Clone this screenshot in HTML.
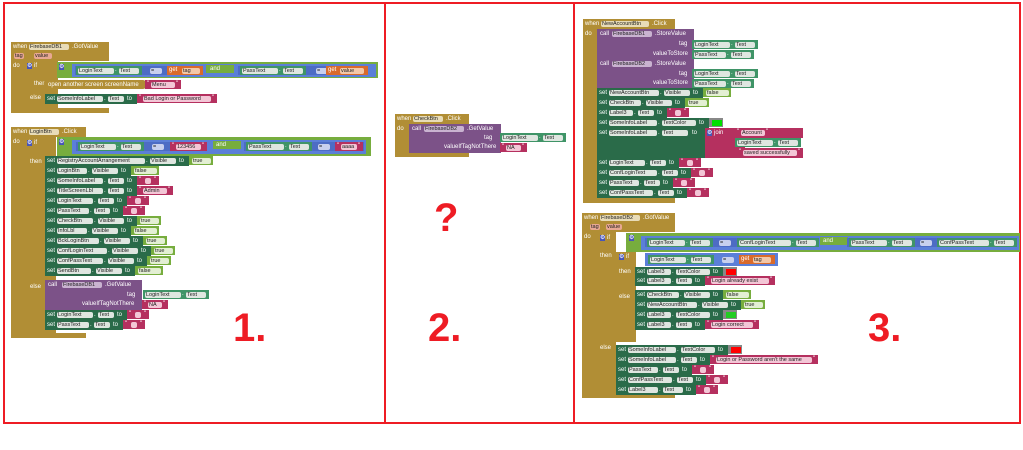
<!DOCTYPE html>
<html><head><meta charset="utf-8">
<style>
html,body{margin:0;padding:0;background:#fff;width:1023px;height:450px;overflow:hidden;position:relative;font-family:"Liberation Sans",sans-serif}
.r{position:absolute}
.t{position:absolute;font-size:6px;line-height:7px;white-space:nowrap;color:#fff}
.c{position:absolute;height:6px;background:#dfe6e0;border-radius:2px;font-size:5.5px;line-height:6px;color:#222;white-space:nowrap;overflow:hidden;padding-left:1px;box-sizing:border-box}
.big{position:absolute;color:#ee1c24;font-weight:bold;font-size:40px;line-height:40px}
</style></head><body>
<div class="r" style="left:3px;top:2px;width:1014px;height:418px;border:2px solid #ee1c24"></div>
<div class="r" style="left:384px;top:2px;width:2px;height:422px;background:#ee1c24"></div>
<div class="r" style="left:573px;top:2px;width:2px;height:422px;background:#ee1c24"></div>
<div class="big" style="left:233px;top:308px">1.</div>
<div class="big" style="left:428px;top:308px">2.</div>
<div class="big" style="left:868px;top:308px">3.</div>
<div class="big" style="left:434px;top:198px">?</div>
<div id="d"></div>
<script>
var G='#b18e35',P='#7c5288',DG='#2a6b49',GT='#3f9467',LG='#77ad3e',BL='#4d6cc4',M='#b5305f',OR='#d96a2b',LB='#5b7fd8';
var h='';
function R(x,y,w,hh,bg,ex){h+='<div class="r" style="left:'+x+'px;top:'+y+'px;width:'+w+'px;height:'+hh+'px;background:'+bg+';'+(ex||'')+'"></div>';}
function T(x,y,s,c){h+='<div class="t" style="left:'+x+'px;top:'+y+'px;'+(c?'color:'+c:'')+'">'+s+'</div>';}
function C(x,y,w,s,bg){h+='<div class="c" style="left:'+x+'px;top:'+y+'px;width:'+w+'px;'+(bg?'background:'+bg:'')+'">'+s+'</div>';}
function getter(x,y,comp,cw,prop,pw){var w=cw+pw+10;R(x,y,w,9,GT);C(x+2,y+1.5,cw,comp);T(x+cw+3,y+1,'.');C(x+cw+7,y+1.5,pw,prop);return x+w;}
function str(x,y,s,w){R(x,y,w,9,M);T(x+2,y+1,'"');if(s)C(x+6,y+1.5,w-12,s,'#f3c6d6');else C(x+w/2-3,y+1.5,6,'','#f3c6d6');T(x+w-5,y+1,'"');return x+w;}
function bool(x,y,s,w){R(x,y,w,9,LG);C(x+3,y+1.5,w-5,s,'#e3efd3');return x+w;}
function color(x,y,c){R(x,y,14,9,'#888');R(x+3,y+1.5,10,6,c);}
function set(x,y,comp,cw,prop,pw,vt,vs,vw){var w=cw+pw+30;R(x,y,w,10,DG);T(x+2,y+1.5,'set');C(x+12,y+2,cw,comp);T(x+cw+13,y+1.5,'.');C(x+cw+17,y+2,pw,prop);T(x+cw+pw+20,y+1.5,'to');var vx=x+w;
 if(vt=='s')str(vx,y,vs,vw);else if(vt=='b')bool(vx,y,vs,vw);else if(vt=='c')color(vx,y,vs);}
function ev(x,y,w,name,nw,evn,params){R(x,y,w,10,G);T(x+2,y+2,'when');C(x+18,y+2,nw,name,'#e8dcb8');T(x+nw+21,y+2,evn);}
/* ===== Section 1 block A ===== */
ev(11,42,98,'FirebaseDB1',40,'.GotValue');
R(11,52,98,9,G);C(14,53,10,'tag','#e8a893');C(34,53,18,'value','#e8a893');
R(11,61,14,52,G);T(13,63,'do');R(11,108,98,5,G);
R(25,61,33,47,G);R(25,61,33,0,'');
T(27,63,'<span style="background:#4856b8;color:#fff">&#9881;</span> if');
R(57,62,321,16,LG);T(59,64,'<span style="background:#4856b8">&#9881;</span>');
R(72,64,304,13,LB);
R(75,66,110,9,BL);getter(76,66,'LoginText',36,'Text',20);C(150,67.5,12,'=','#c8d0ee');R(167,66,36,9,OR);T(169,67,'get');C(182,67.5,18,'tag','#f3c7a8');
R(206,65,28,8,LG);T(210,65.5,'and');
R(238,66,110,9,BL);getter(240,66,'PassText',36,'Text',20);C(316,67.5,12,'=','#c8d0ee');R(326,66,42,9,OR);T(328,67,'get');C(340,67.5,24,'value','#f3c7a8');
T(34,81,'then');R(44,80,102,9,G,'border-radius:3px');T(48,81.5,'open another screen  screenName');str(145,80,'Menu',36);
T(30,95,'else');set(45,94,'SomeInfoLabel',46,'Text',16,'s','Bad Login or Password',80);
/* ===== Section 1 block B ===== */
ev(11,127,75,'LoginBtn',30,'.Click');
R(11,137,14,201,G);T(13,139,'do');R(11,333,75,5,G);
R(25,137,31,199,G);T(27,140,'<span style="background:#4856b8">&#9881;</span> if');
R(57,137,314,19,LG);T(59,139,'<span style="background:#4856b8">&#9881;</span>');R(72,140,294,14,LB);
R(76,142,130,9,BL);getter(78,142,'LoginText',36,'Text',20);C(152,143.5,12,'=','#c8d0ee');str(170,142,'123456',37);
R(213,141,28,8,LG);T(216,141.5,'and');
R(244,142,120,9,BL);getter(246,142,'PassText',36,'Text',20);C(318,143.5,12,'=','#c8d0ee');str(335,142,'aaaa',28);
T(30,159,'then');
var rows=[['RegistryAccountArrangement',88,'Visible',26,'b','true',24],['LoginBtn',30,'Visible',26,'b','false',28],['SomeInfoLabel',46,'Text',16,'s','',22],['TitleScreenLbl',46,'Text',16,'s','Admin',36],['LoginText',36,'Text',16,'s','',22],['PassText',32,'Text',16,'s','',22],['CheckBtn',36,'Visible',26,'b','true',24],['InfoLbl',30,'Visible',26,'b','false',28],['BckLoginBtn',42,'Visible',26,'b','true',24],['ConfLoginText',50,'Visible',26,'b','true',24],['ConfPassText',46,'Visible',26,'b','true',24],['SendBtn',34,'Visible',26,'b','false',28]];
rows.forEach(function(r,i){set(45,156+i*10,r[0],r[1],r[2],r[3],r[4],r[5],r[6]);});
T(30,284,'else');R(45,280,97,30,P);T(48,282,'call');C(62,282,40,'FirebaseDB1','#c9b3d0');T(105,282,'.GetValue');
T(127,292,'tag');getter(143,290,'LoginText',36,'Text',20);T(82,301,'valueIfTagNotThere');str(142,300,'NA',26);
set(45,310,'LoginText',36,'Text',16,'s','',22);set(45,320,'PassText',32,'Text',16,'s','',22);
/* ===== Section 2 ===== */
ev(395,114,74,'CheckBtn',30,'.Click');R(395,124,14,33,G);T(397,126,'do');R(395,152,74,5,G);
R(409,124,92,29,P);T(412,126,'call');C(424,126,40,'FirebaseDB2','#c9b3d0');T(467,126,'.GetValue');
T(484,135,'tag');getter(500,133,'LoginText',36,'Text',20);T(444,144,'valueIfTagNotThere');str(500,143,'NA',27);
/* ===== Section 3 top ===== */
ev(583,19,92,'NewAccountBtn',48,'.Click');R(583,29,14,174,G);T(585,31,'do');R(583,198,92,5,G);
R(597,29,97,30,P);T(600,31,'call');C(612,31,40,'FirebaseDB1','#c9b3d0');T(655,31,'.StoreValue');
T(679,41,'tag');getter(692,40,'LoginText',36,'Text',20);T(653,51,'valueToStore');getter(692,50,'PassText',32,'Text',20);
R(597,59,97,29,P);T(600,61,'call');C(612,61,40,'FirebaseDB2','#c9b3d0');T(655,61,'.StoreValue');
T(679,71,'tag');getter(692,69,'LoginText',36,'Text',20);T(653,80,'valueToStore');getter(692,79,'PassText',32,'Text',20);
set(597,88,'NewAccountBtn',50,'Visible',26,'b','false',28);set(597,98,'CheckBtn',32,'Visible',26,'b','true',24);
set(597,108,'Label3',24,'Text',16,'s','',22);set(597,118,'SomeInfoLabel',48,'TextColor',34,'c','#00e000');
R(597,128,108,30,DG);T(599,130,'set');C(609,130,48,'SomeInfoLabel');T(658,129.5,'.');C(662,130,26,'Text');T(692,129.5,'to');
R(705,128,40,30,M);T(707,130,'<span style="background:#4856b8">&#9881;</span> join');R(732,128,71,10,M);str(735,128,'Account',36);
getter(735,138,'LoginText',36,'Text',20);R(735,148,68,10,M);str(737,148,'saved successfully',66);
set(597,158,'LoginText',36,'Text',16,'s','',22);set(597,168,'ConfLoginText',48,'Text',16,'s','',22);
set(597,178,'PassText',30,'Text',16,'s','',22);set(597,188,'ConfPassText',44,'Text',16,'s','',22);
/* ===== Section 3 bottom ===== */
ev(582,213,93,'FirebaseDB2',40,'.GotValue');R(582,223,93,9,G);C(590,224,10,'tag','#e8a893');C(606,224,16,'value','#e8a893');
R(582,232,14,166,G);T(584,234,'do');R(582,393,93,5,G);
R(596,232,20,161,G);T(600,235,'<span style="background:#4856b8">&#9881;</span> if');
R(626,233,394,19,LG);T(629,235,'<span style="background:#4856b8">&#9881;</span>');R(641,236,378,14,LB);
R(645,238,170,9,BL);getter(647,238,'LoginText',36,'Text',20);C(719,239.5,12,'=','#c8d0ee');getter(737,238,'ConfLoginText',52,'Text',20);
R(820,237,28,8,LG);T(823,237.5,'and');
R(847,238,168,9,BL);getter(849,238,'PassText',36,'Text',20);C(920,239.5,12,'=','#c8d0ee');getter(937,238,'ConfPassText',50,'Text',20);
T(600,253,'then');R(616,252,20,90,G);T(619,254,'<span style="background:#4856b8">&#9881;</span> if');
R(645,253,133,13,LB);getter(648,255,'LoginText',36,'Text',20);C(722,256.5,12,'=','#c8d0ee');R(739,255,36,9,OR);T(741,256,'get');C(753,256.5,18,'tag','#f3c7a8');
T(619,269,'then');set(635,267,'Label3',24,'TextColor',34,'c','#ff0000');set(635,276,'Label3',24,'Text',16,'s','Login already exist',70);
T(619,294,'else');set(635,290,'CheckBtn',32,'Visible',26,'b','false',28);set(635,300,'NewAccountBtn',50,'Visible',26,'b','true',24);
set(635,310,'Label3',24,'TextColor',34,'c','#22cc22');set(635,320,'Label3',24,'Text',16,'s','Login correct',54);
T(600,345,'else');set(616,345,'SomeInfoLabel',48,'TextColor',34,'c','#ff0000');set(616,355,'SomeInfoLabel',48,'Text',16,'s',"Login or Password aren't the same",108);
set(616,365,'PassText',30,'Text',16,'s','',22);set(616,375,'ConfPassText',44,'Text',16,'s','',22);set(616,385,'Label3',30,'Text',20,'s','',22);
document.getElementById('d').innerHTML=h;
</script>
</body></html>
